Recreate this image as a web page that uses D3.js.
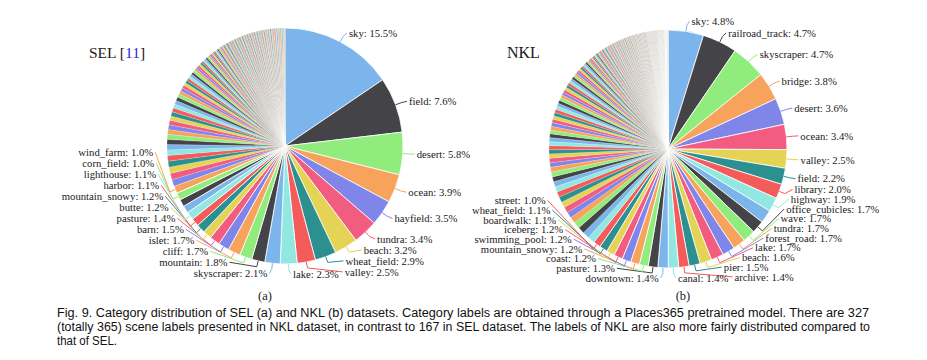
<!DOCTYPE html>
<html><head><meta charset="utf-8">
<script src="https://cdn.jsdelivr.net/npm/d3@7"></script>
<style>body{margin:0;background:#fff}</style>
</head><body><svg id="c" width="927" height="360"></svg>
<script>
const palette = ["#7cb5ec","#434348","#90ed7d","#f7a35c","#8085e9","#f15c80","#e4d354","#2b908f","#f45b5b","#91e8e1"];

// SEL (a): labelled categories ("" = slice whose label is hidden)
const selNames = ["sky","field","desert","ocean","hayfield","tundra","beach","wheat_field","valley","lake","skyscraper","mountain","cliff","islet","barn","pasture","butte","mountain_snowy","harbor","lighthouse","","","corn_field","wind_farm"];
const selValues = [15.5,7.6,5.8,3.9,3.5,3.4,3.2,2.9,2.5,2.3,2.1,1.8,1.7,1.7,1.5,1.4,1.2,1.2,1.1,1.1,1.0,1.0,1.0,1.0];
// remaining unlabelled SEL categories (estimated)
const selTail = [0.92,0.88,0.85,0.82,0.78,0.75,0.72,0.70,0.68,0.66,0.64,0.62,0.60,0.58,0.56,
 0.54,0.52,0.50,0.48,0.46,0.44,0.42,0.40,0.38,0.36,0.35,0.34,0.33,0.32,0.31,0.30,0.29,0.28,0.27,0.26,
 0.25,0.24,0.23,0.22,0.21,0.20,0.20,0.19,0.19,0.18,0.18,0.17,0.17,0.16,0.16,0.15,0.15,0.15,0.14,0.14,0.14,0.13,0.13,0.13,0.12,0.12,0.12,0.12,0.11,0.11,
 0.11,0.11,0.11,0.11,0.11,0.11,0.11,0.11,0.11,0.11,0.11,0.11,0.11,0.11,0.11,0.11,0.11,0.11,0.11,0.11,
 0.10,0.10,0.10,0.10,0.10,0.10,0.10,0.10,0.10,0.10,0.10,0.10,0.10,0.10,0.10,0.10,0.10,0.10,0.10,0.10,
 0.09,0.09,0.09,0.09,0.09,0.09,0.09,0.09,0.09,0.09,0.09,0.09,0.09,0.09,0.09,0.09,0.09,0.09,0.09,0.09,
 0.08,0.08,0.08,0.08,0.08,0.08,0.08,0.08,0.08,0.08,
 0.06,0.06,0.06,0.06,0.06,0.06,0.06,0.06];

// NKL (b)
const nklNames = ["sky","railroad_track","skyscraper","bridge","desert","ocean","valley","field","library","highway","","office_cubicles","wave","tundra","forest_road","lake","beach","pier","archive","canal","downtown","pasture","coast","mountain_snowy","swimming_pool","iceberg","boardwalk","wheat_field","street"];
const nklValues = [4.8,4.7,4.7,3.8,3.6,3.4,2.5,2.2,2.0,1.9,1.8,1.7,1.7,1.7,1.7,1.7,1.6,1.5,1.4,1.4,1.4,1.3,1.2,1.2,1.2,1.2,1.1,1.1,1.0];
// remaining unlabelled NKL categories (estimated)
const nklTail = [0.95,0.92,0.90,0.88,0.85,0.82,0.80,0.78,0.76,0.74,0.72,0.70,0.68,0.66,0.64,0.62,0.60,0.58,0.56,0.55,
 0.54,0.53,0.52,0.51,0.50,0.49,0.48,0.47,0.46,0.45,0.44,0.43,0.42,0.41,0.40,0.39,0.38,0.37,0.36,0.35,
 0.34,0.33,0.32,0.31,0.30,0.29,0.28,0.27,0.26,0.25,0.24,0.23,0.22,0.21,0.20,
 0.19,0.19,0.18,0.18,0.17,0.17,0.16,0.16,0.15,0.15,0.15,0.14,0.14,0.14,0.13,0.13,0.13,0.12,0.12,0.12,
 0.12,0.11,0.11,0.11,0.11,0.10,0.10,0.10,0.10,0.10,
 0.09,0.09,0.09,0.09,0.09,0.09,0.09,0.09,0.09,0.09,0.08,0.08,0.08,0.08,0.08,0.08,0.08,0.08,0.08,0.08,
 0.07,0.07,0.07,0.07,0.07,0.07,0.07,0.07,0.07,0.07,0.06,0.06,0.06,0.06,0.06,0.06,0.06,0.06,0.06,0.06,
 0.05,0.05,0.05,0.05,0.05,0.05,0.05,0.05,0.05,0.05,0.05,0.05,0.05,0.05,0.05,0.05,0.05,0.05,0.05,0.05,
 0.05,0.05,0.05,0.05,0.05,0.05,0.05,0.05,0.05,0.05,
 0.03,0.03,0.03,0.03,0.03,0.03,0.03,0.03,0.03,0.03,0.03,0.03,0.03,0.03,0.03,0.03,0.03,0.03,0.03,0.03,
 0.03,0.03,0.03,0.03,0.03,0.03,0.03,0.03,0.03,0.03,0.03,0.03,0.03,0.03,0.03,0.03,0.03,0.03,0.03,0.03,
 0.03,0.03,0.03,0.03,0.03,0.03,0.03,0.03,0.03,0.03,
 0.02,0.02,0.02,0.02,0.02,0.02,0.02,0.02,0.02,0.02,0.02,0.02,0.02,0.02,0.02,0.02,0.02,0.02,0.02,0.02,
 0.02,0.02,0.02,0.02,0.02,0.02,0.02,0.02,0.02,0.02,0.02,0.02,0.02,0.02,0.02,0.02,0.02,0.02,0.02,0.02,
 0.02,0.02,0.02,0.02,0.02,0.02,0.02,0.02,0.02,0.02,
 0.01,0.01,0.01,0.01,0.01,0.01,0.01,0.01,0.01,0.01,0.01,0.01,0.01,0.01,0.01,0.01,0.01,0.01,0.01,0.01,
 0.01,0.01,0.01,0.01,0.01,0.01,0.01,0.01,0.01,0.01,0.01,0.01,0.01,0.01,0.01,0.01,0.01,0.01,0.01,0.01,
 0.01,0.01,0.01];

const captionLines = [
 "Fig. 9.  Category distribution of SEL (a) and NKL (b) datasets. Category labels are obtained through a Places365 pretrained model. There are 327",
 "(totally 365) scene labels presented in NKL dataset, in contrast to 167 in SEL dataset. The labels of NKL are also more fairly distributed compared to",
 "that of SEL."
];

const svg = d3.select("#c");
const LABEL_FONT = "10.7px 'Liberation Serif', 'Times New Roman', serif";

function drawPie(opt) {
  const names = opt.names.concat(opt.tail.map(() => ""));
  const values = opt.values.concat(opt.tail);
  const data = values.map((v, i) => ({ name: names[i], value: v, i }));
  const color = d3.scaleOrdinal().domain(d3.range(palette.length)).range(palette);
  const arcs = d3.pie().value(d => d.value).sort(null)(data);
  const arc = d3.arc().innerRadius(0).outerRadius(opt.r);
  const g = svg.append("g").attr("transform", `translate(${opt.cx},${opt.cy})`);
  g.selectAll("path.slice").data(arcs).join("path").attr("class", "slice")
    .attr("d", arc).attr("fill", d => color(d.data.i % palette.length))
    .attr("stroke", "#fff").attr("stroke-width", d => d.data.name !== "" || d.data.value >= 1 ? 0.8 : 0.2);

  const r = opt.r, R = r + 10, pad = 4, sp = opt.spacing, h = sp - 0.6, gap = 6;
  const labels = arcs.filter(d => d.data.name).map(d => {
    const a = (d.startAngle + d.endAngle) / 2;
    return { a, text: `${d.data.name}: ${d.data.value.toFixed(1)}%`, col: color(d.data.i % palette.length),
      side: Math.sin(a) >= 0 ? 1 : -1, nx: R * Math.sin(a), ny: -R * Math.cos(a) };
  });
  const meas = g.append("text").style("font", LABEL_FONT);
  labels.forEach(l => { meas.text(l.text); l.w = meas.node().getComputedTextLength(); });
  meas.remove();

  const placed = [];
  const box = l => l.side > 0 ? [l.x, l.x + l.w] : [l.x - l.w, l.x];
  const hit = l => placed.find(p => Math.abs(p.y - l.y) < h &&
      box(p)[0] < box(l)[1] + gap && box(l)[0] < box(p)[1] + gap);
  const xAt = (y, side) => { const dy = Math.min(Math.abs(y), R); return side * (Math.sqrt(R * R - dy * dy) + pad); };
  const rowY = R;
  const rowThresh = 5 * Math.PI / 180;
  const row = labels.filter(l => Math.abs(l.a - Math.PI) < rowThresh)
    .sort((a, b) => Math.abs(a.a - Math.PI) - Math.abs(b.a - Math.PI));
  row.forEach(l => {
    l.y = rowY; l.x = l.nx + l.side * pad;
    let c, k = 0;
    while ((c = hit(l)) && k++ < 20) l.x = l.side > 0 ? box(c)[1] + gap : box(c)[0] - gap;
    placed.push(l);
  });
  [1, -1].forEach(side => {
    const items = labels.filter(l => !row.includes(l) && l.side === side).sort((a, b) => b.ny - a.ny);
    let prevY = rowY + sp;
    items.forEach(l => {
      l.y = Math.min(l.ny, prevY - sp);
      l.x = xAt(l.y, side);
      let c, k = 0;
      while ((c = hit(l)) && k++ < 20) {
        const px = side > 0 ? box(c)[1] + gap : box(c)[0] - gap;
        if (Math.abs(px - l.x) <= 50) l.x = px;
        else { l.y = c.y - sp; l.x = xAt(l.y, side); }
      }
      placed.push(l);
      prevY = l.y;
    });
  });

  g.selectAll("path.conn").data(labels).join("path").attr("class", "conn")
    .attr("fill", "none").attr("stroke", l => l.col).attr("stroke-width", 1)
    .attr("d", l => {
      const tx = r * Math.sin(l.a), ty = -r * Math.cos(l.a);
      const bx = (r + 6) * Math.sin(l.a), by = -(r + 6) * Math.cos(l.a);
      return `M${tx},${ty}L${bx},${by}L${l.x - l.side * 2},${l.y}`;
    });
  g.selectAll("text.lbl").data(labels).join("text").attr("class", "lbl")
    .style("font", LABEL_FONT).attr("fill", "#1a1a1a")
    .attr("x", l => l.x).attr("y", l => l.y).attr("dy", "0.35em")
    .attr("text-anchor", l => l.side > 0 ? "start" : "end")
    .text(l => l.text);
}

drawPie({ cx: 285, cy: 146, r: 118, spacing: 11, names: selNames, values: selValues, tail: selTail });
drawPie({ cx: 668, cy: 149, r: 119, spacing: 9.7, names: nklNames, values: nklValues, tail: nklTail });

// titles
const t1 = svg.append("text").attr("x", 89).attr("y", 58)
  .style("font", "15.5px 'Liberation Serif', serif").attr("fill", "#1a1a1a");
t1.append("tspan").text("SEL [");
t1.append("tspan").attr("fill", "#2b2bd8").text("11");
t1.append("tspan").text("]");
svg.append("text").attr("x", 507).attr("y", 58)
  .style("font", "16px 'Liberation Serif', serif").attr("fill", "#1a1a1a").text("NKL");

// sub-captions
[["(a)", 265], ["(b)", 683]].forEach(([t, x]) =>
  svg.append("text").attr("x", x).attr("y", 300).attr("text-anchor", "middle")
    .style("font", "12.5px 'Liberation Serif', serif").attr("fill", "#1a1a1a").text(t));

// figure caption
const capW = [812, 813, 60];
captionLines.forEach((t, i) =>
  svg.append("text").attr("x", 57).attr("y", 317 + i * 14)
    .style("font", "12px 'Liberation Sans', Arial, sans-serif").attr("fill", "#111")
    .attr("textLength", capW[i]).attr("lengthAdjust", "spacingAndGlyphs").text(t));
</script>
</body></html>
